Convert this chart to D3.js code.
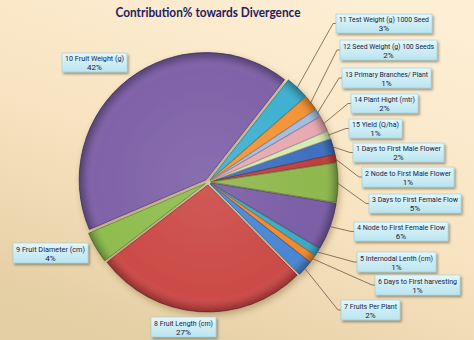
<!DOCTYPE html>
<html>
<head>
<meta charset="utf-8">
<script src="https://cdn.jsdelivr.net/npm/d3@7"></script>
<style>
  html, body { margin: 0; padding: 0; background: #fbe9cb; }
  svg { display: block; }
</style>
</head>
<body>
<svg id="chart" width="474" height="340"></svg>
<script>
// ---------------- DATA ----------------
const categories = [
  "1  Days to First Male Flower",
  "2  Node to First Male Flower",
  "3  Days to First Female Flow",
  "4  Node to First Female Flow",
  "5  Internodal Lenth (cm)",
  "6  Days to First harvesting",
  "7  Fruits Per Plant",
  "8  Fruit Length (cm)",
  "9  Fruit Diameter (cm)",
  "10  Fruit Weight (g)",
  "11  Test Weight (g) 1000 Seed",
  "12  Seed Weight (g) 100 Seeds",
  "13  Primary Branches/ Plant",
  "14  Plant Hight  (mtr)",
  "15  Yield (Q/ha)"
];
const values = [2, 1, 5, 6, 1, 1, 2, 27, 4, 42, 3, 2, 1, 2, 1];
const percentLabels = ["2%", "1%", "5%", "6%", "1%", "1%", "2%", "27%", "4%", "42%", "3%", "2%", "1%", "2%", "1%"];
const title = "Contribution% towards Divergence";

// ---------------- STYLE / LAYOUT ----------------
const palette = ["#3f70bf", "#c0403d", "#8fb84e", "#7b5ea6", "#3ea9c6", "#f08a32",
                 "#4a86d4", "#cc4b48", "#8fbd4f", "#7f62a8", "#3fb1d0", "#f39436",
                 "#a2bde2", "#e8a9b2", "#d9e8b6"];
// label box placement [left, top, width, height, showLeader]
const labelBoxes = [
  [353, 143, 91, 19, true],
  [362, 167, 92, 20, true],
  [369, 194, 92, 19, true],
  [354, 222, 94, 19, true],
  [357, 252, 79, 20, true],
  [375, 275, 85, 20, true],
  [341, 300, 59, 20, true],
  [151, 317, 65, 20, false],
  [13, 243, 75, 20, false],
  [62, 53, 65, 19, false],
  [336, 14, 96, 19, true],
  [340, 40, 97, 20, true],
  [342, 68, 89, 20, true],
  [351, 94, 67, 19, true],
  [349, 119, 53, 19, true]
];

const W = 474, H = 340;
const cx = 208, cy = 182, R = 127, explode = 3;
const startDeg = 70.5;

const svg = d3.select("#chart");
const defs = svg.append("defs");

// background gradient
const bg = defs.append("linearGradient").attr("id", "bg")
  .attr("x1", "0.75").attr("y1", "0").attr("x2", "0.25").attr("y2", "1");
bg.append("stop").attr("offset", "0").attr("stop-color", "#fdeed4");
bg.append("stop").attr("offset", "0.5").attr("stop-color", "#f8e4c2");
bg.append("stop").attr("offset", "1").attr("stop-color", "#e4cea3");
svg.append("rect").attr("width", W).attr("height", H).attr("fill", "url(#bg)");

// shadows
const sh = defs.append("filter").attr("id", "pieShadow")
  .attr("x", "-20%").attr("y", "-20%").attr("width", "140%").attr("height", "140%");
sh.append("feDropShadow").attr("dx", 2).attr("dy", 3).attr("stdDeviation", 3)
  .attr("flood-color", "#5a4020").attr("flood-opacity", 0.35);
const bsh = defs.append("filter").attr("id", "boxShadow")
  .attr("x", "-20%").attr("y", "-30%").attr("width", "140%").attr("height", "170%");
bsh.append("feDropShadow").attr("dx", 1.5).attr("dy", 2).attr("stdDeviation", 1.2)
  .attr("flood-color", "#3a3020").attr("flood-opacity", 0.45);

// box gradient
const bxg = defs.append("linearGradient").attr("id", "boxFill")
  .attr("x1", 0).attr("y1", 0).attr("x2", 0).attr("y2", 1);
bxg.append("stop").attr("offset", 0).attr("stop-color", "#e3f7fb");
bxg.append("stop").attr("offset", 1).attr("stop-color", "#b9e4ef");

// bevel overlay gradient
const bev = defs.append("radialGradient").attr("id", "bevel")
  .attr("gradientUnits", "userSpaceOnUse").attr("cx", 0).attr("cy", 0).attr("r", R);
bev.append("stop").attr("offset", 0).attr("stop-color", "#fff").attr("stop-opacity", 0.08);
bev.append("stop").attr("offset", 0.88).attr("stop-color", "#fff").attr("stop-opacity", 0);
bev.append("stop").attr("offset", 0.95).attr("stop-color", "#000").attr("stop-opacity", 0.1);
bev.append("stop").attr("offset", 1).attr("stop-color", "#000").attr("stop-opacity", 0.32);

// title
svg.append("text")
  .attr("x", 208).attr("y", 17)
  .attr("text-anchor", "middle")
  .attr("font-family", "Lato, 'Open Sans', sans-serif")
  .attr("font-weight", "bold")
  .attr("font-size", 13.5)
  .attr("textLength", 185)
  .attr("lengthAdjust", "spacingAndGlyphs")
  .attr("fill", "#1f2060")
  .text(title);

// pie
const data = categories.map((c, i) => ({ name: c, value: values[i], pct: percentLabels[i], i }));
const pie = d3.pie().sort(null).value(d => d.value)
  .startAngle(startDeg * Math.PI / 180)
  .endAngle(startDeg * Math.PI / 180 + 2 * Math.PI);
const arcs = pie(data);
const arc = d3.arc().innerRadius(0).outerRadius(R);

const pieG = svg.append("g").attr("transform", `translate(${cx},${cy})`)
  .attr("filter", "url(#pieShadow)");

function offsetOf(a) {
  const m = (a.startAngle + a.endAngle) / 2;
  return [Math.sin(m) * explode, -Math.cos(m) * explode];
}

const sl = pieG.selectAll("g.slice").data(arcs).join("g")
  .attr("class", "slice")
  .attr("transform", d => { const o = offsetOf(d); return `translate(${o[0]},${o[1]})`; });
sl.append("path")
  .attr("d", arc)
  .attr("fill", d => palette[d.data.i])
  .attr("stroke", d => d3.color(palette[d.data.i]).darker(0.9))
  .attr("stroke-width", 0.9)
  .attr("stroke-linejoin", "round");
sl.append("path")
  .attr("d", arc)
  .attr("fill", "url(#bevel)");

// leaders and labels
const leaderG = svg.append("g");
const labelG = svg.append("g");

arcs.forEach(a => {
  const i = a.data.i;
  const [bx, by, bw, bh, leader] = labelBoxes[i];
  const m = (a.startAngle + a.endAngle) / 2;
  const o = offsetOf(a);
  if (leader) {
    const sx = cx + o[0] + Math.sin(m) * (R - 1);
    const sy = cy + o[1] - Math.cos(m) * (R - 1);
    const ey = by + bh / 2;
    leaderG.append("path")
      .attr("d", d3.line()([[sx, sy], [bx - 3, ey], [bx, ey]]))
      .attr("fill", "none")
      .attr("stroke", "#6a5a46")
      .attr("stroke-width", 0.8);
  }
  const g = labelG.append("g").attr("transform", `translate(${bx},${by})`);
  g.append("rect").attr("width", bw).attr("height", bh)
    .attr("fill", "url(#boxFill)")
    .attr("stroke", "#9fcbd8").attr("stroke-width", 0.6)
    .attr("filter", "url(#boxShadow)");
  const t1 = g.append("text")
    .attr("x", bw / 2).attr("y", bh / 2 - 1.5)
    .attr("text-anchor", "middle")
    .attr("font-family", "Roboto, sans-serif")
    .attr("font-size", 8)
    .attr("fill", "#17223e")
    .text(a.data.name);
  t1.attr("textLength", bw - 6).attr("lengthAdjust", "spacingAndGlyphs");
  g.append("text")
    .attr("x", bw / 2).attr("y", bh / 2 + 7.5)
    .attr("text-anchor", "middle")
    .attr("font-family", "Roboto, sans-serif")
    .attr("font-size", 8)
    .attr("fill", "#17223e")
    .text(a.data.pct);
});
</script>
</body>
</html>
